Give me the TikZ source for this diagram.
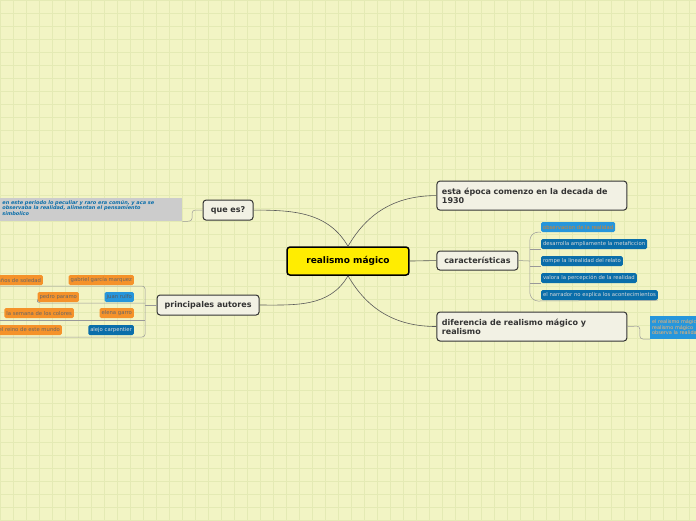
\documentclass[tikz,border=0pt]{standalone}
\usepackage{fontspec}
\setmainfont{DejaVu Sans}
\definecolor{bg}{RGB}{242,244,196}
\definecolor{gr}{RGB}{228,234,180}
\definecolor{org}{RGB}{245,146,42}
\definecolor{lb}{RGB}{38,150,220}
\definecolor{db}{RGB}{10,110,170}
\definecolor{bx}{RGB}{242,241,228}
\begin{document}
\begin{tikzpicture}[x=1pt,y=-1pt,
 main/.style={draw=black!80,line width=1pt,fill=bx,rounded corners=3pt,font=\bfseries\fontsize{8}{9}\selectfont,text=black!80,align=flush left,inner sep=4pt},
 leaf/.style={rounded corners=1.5pt,font=\fontsize{5.3}{6}\selectfont,inner sep=2pt,minimum height=10pt},
 org/.style={leaf,fill=org,text=black!60},
 blu/.style={leaf,fill=lb,text=black!65},
 dblu/.style={leaf,fill=db,text=white!70!gray},
 con/.style={draw=black!65,line width=0.6pt},
 brk/.style={draw=gray!80,line width=0.5pt,rounded corners=3pt}]
\fill[bg] (0,0) rectangle (696,520);
\foreach \i in {0,13,...,696} \draw[gr,line width=0.4pt] (\i,0) -- (\i,520);
\foreach \i in {0,13,...,520} \draw[gr,line width=0.4pt] (0,\i) -- (696,\i);
\useasboundingbox (0,0) rectangle (696,520);
\node[draw=black,line width=1.5pt,fill=yellow!95!orange,rounded corners=3pt,minimum width=122pt,minimum height=28pt,font=\bfseries\fontsize{9}{10}\selectfont] (c) at (348,261) {realismo mágico};
\node[main,minimum width=50pt,minimum height=20pt,align=center] (q) at (228,210) {que es?};
\node[main,minimum width=102pt,minimum height=20pt,align=center] (p) at (208,305) {principales autores};
\node[main,minimum width=190pt,minimum height=29pt,text width=180pt] (e) at (532,195.5) {esta época comenzo en la decada de 1930};
\node[main,minimum width=81pt,minimum height=19pt,align=center] (k) at (477.5,260.5) {características};
\node[main,minimum width=190pt,minimum height=29pt,text width=180pt] (d) at (532,326.5) {diferencia de realismo mágico y realismo};
\draw[con] (c.north) to[out=120,in=0] (q.east);
\draw[con] (c.south) to[out=240,in=0] (p.east);
\draw[con] (c.north) to[out=60,in=180] (e.west);
\draw[con] (c.east) -- (k.west);
\draw[con] (c.south) to[out=300,in=180] (d.west);
\node[fill=gray!40,anchor=north west,minimum width=182pt,minimum height=23pt,inner sep=0pt] (n) at (0,198) {};
\node[anchor=north west,text width=165pt,inner sep=2pt,align=flush left,font=\bfseries\itshape\fontsize{5}{5.5}\selectfont,text=db] at (n.north west) {en este periodo lo peculiar y raro era común, y aca se observaba la realidad, alimentan el pensamiento simbolico};
\draw[brk] (q.west) -- (192,210) -- (192,221) -- (n.south east);
\node[org,anchor=east] (a1) at (134,280) {gabriel garcía marquez};
\node[org,anchor=east] (b1) at (43,280) {cien años de soledad};
\node[blu,anchor=east] (a2) at (134,297) {juan rulfo};
\node[org,anchor=east] (b2) at (79,297) {pedro paramo};
\node[org,anchor=east] (a3) at (134,313) {elena garro};
\node[org,anchor=east] (b3) at (74,313) {la semana de los colores};
\node[dblu,anchor=east] (a4) at (134,330) {alejo carpentier};
\node[org,anchor=east] (b4) at (62,330) {el reino de este mundo};
\draw[brk] (p.west) -- (145,305);
\draw[brk] (0,286) -- (145,286) -- (145,337) -- (0,337);
\draw[brk] (b2.south west) |- (145,303);
\draw[brk] (0,320) -- (145,320);
\node[blu,anchor=west,text=org!90!black] (c1) at (541,227) {observacion de la realidad};
\node[dblu,anchor=west] (c2) at (541,244) {desarrolla ampliamente la metaficcion};
\node[dblu,anchor=west] (c3) at (541,261) {rompe la linealidad del relato};
\node[dblu,anchor=west] (c4) at (541,278) {valora la percepción de la realidad};
\node[dblu,anchor=west] (c5) at (541,295) {el narrador no explica los acontecimientos};
\draw[brk] (k.east) -- (530,261);
\draw[brk] (c1.south west) -- (535,232) -- (530,237) -- (530,296) -- (535,301) -- (c5.south east);
\foreach \y in {249,266,283} \draw[brk] (530,\y) -- (541,\y);
\node[fill=lb,anchor=west,minimum height=23pt,text width=60pt,inner sep=2pt,align=flush left,font=\fontsize{5}{5.5}\selectfont,text=org!70!white] (r) at (650,327.5) {el realismo mágico y el realismo mágico observa la realidad};
\draw[brk] (d.east) -- (640,326) -- (640,339) -- (650,339);
\end{tikzpicture}
\end{document}
